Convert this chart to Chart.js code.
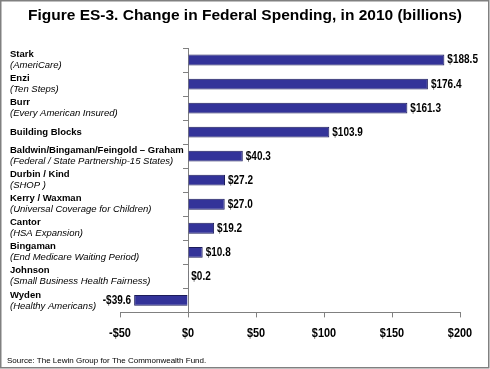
<!DOCTYPE html>
<html>
<head>
<meta charset="utf-8">
<script src="https://cdn.jsdelivr.net/npm/chart.js@4/dist/chart.umd.min.js"></script>
<style>
  html, body { margin: 0; padding: 0; background: #fff; }
  canvas { display: block; }
</style>
</head>
<body>
<canvas id="chart" width="490" height="369"></canvas>
<script>
// Sponsors (bold line) and plan names (italic line), top to bottom
const sponsors = [
    'Stark', 'Enzi', 'Burr', 'Building Blocks',
    'Baldwin/Bingaman/Feingold \u2013 Graham', 'Durbin / Kind', 'Kerry / Waxman',
    'Cantor', 'Bingaman', 'Johnson', 'Wyden'
];
const plans = [
    '(AmeriCare)', '(Ten Steps)', '(Every American Insured)', '',
    '(Federal / State Partnership-15 States)', '(SHOP )',
    '(Universal Coverage for Children)', '(HSA Expansion)',
    '(End Medicare Waiting Period)', '(Small Business Health Fairness)',
    '(Healthy Americans)'
];
// Change in federal spending, 2010, $ billions
const spending = [188.5, 176.4, 161.3, 103.9, 40.3, 27.2, 27.0, 19.2, 10.8, 0.2, -39.6];
const axisMin = -50;
const axisMax = 200;
const axisStep = 50;

const titleText = 'Figure ES-3. Change in Federal Spending, in 2010 (billions)';
const sourceText = 'Source: The Lewin Group for The Commonwealth Fund.';

const money = v => (v < 0 ? '-$' : '$') + Math.abs(v).toFixed(1);
const moneyTick = v => (v < 0 ? '-$' : '$') + Math.abs(v);

const sans = '"Liberation Sans", Arial, sans-serif';

// condensed text: squeeze horizontally around the anchor point
function narrowText(ctx, text, x, y, squeeze) {
    ctx.save();
    ctx.translate(x, y);
    ctx.scale(squeeze, 1);
    ctx.fillText(text, 0, 0);
    ctx.restore();
}

// draws title, source, category labels, value labels, x tick labels and the frame
const decorations = {
    id: 'decorations',
    afterDraw(chart) {
        const ctx = chart.ctx;
        const xScale = chart.scales.x;
        const yScale = chart.scales.y;
        ctx.save();

        ctx.fillStyle = '#000';
        ctx.textBaseline = 'middle';
        ctx.textAlign = 'center';
        ctx.font = 'bold 15.5px ' + sans;
        ctx.fillText(titleText, 245, 16);

        ctx.textAlign = 'left';
        ctx.font = '8px ' + sans;
        ctx.fillText(sourceText, 7, 361);

        // category labels
        sponsors.forEach((name, i) => {
            const yc = yScale.getPixelForValue(i);
            if (plans[i]) {
                ctx.font = 'bold 9.5px ' + sans;
                ctx.fillText(name, 10, yc - 5.5);
                ctx.font = 'italic 9.5px ' + sans;
                ctx.fillText(plans[i], 10, yc + 5.5);
            } else {
                ctx.font = 'bold 9.5px ' + sans;
                ctx.fillText(name, 10, yc);
            }
        });

        // value labels at bar ends
        ctx.font = 'bold 12.5px ' + sans;
        const meta = chart.getDatasetMeta(0);
        meta.data.forEach((bar, i) => {
            const v = spending[i];
            if (v < 0) {
                ctx.textAlign = 'right';
                narrowText(ctx, money(v), bar.x - 3, bar.y, 0.8);
            } else {
                ctx.textAlign = 'left';
                narrowText(ctx, money(v), bar.x + 3, bar.y, 0.8);
            }
        });

        // x tick labels
        ctx.font = 'bold 13px ' + sans;
        ctx.textAlign = 'center';
        xScale.ticks.forEach(t => {
            narrowText(ctx, moneyTick(t.value), xScale.getPixelForValue(t.value), 333, 0.84);
        });

        // outer frame
        ctx.strokeStyle = '#808080';
        ctx.lineWidth = 1.5;
        ctx.strokeRect(0.75, 0.75, 488, 367);
        ctx.restore();
    }
};

new Chart(document.getElementById('chart'), {
    type: 'bar',
    data: {
        labels: sponsors,
        datasets: [{
            data: spending,
            backgroundColor: '#333399',
            borderColor: '#1c1c5a',
            borderWidth: 1,
            categoryPercentage: 0.5,
            barPercentage: 0.9,
        }]
    },
    options: {
        indexAxis: 'y',
        responsive: false,
        animation: false,
        devicePixelRatio: 1,
        layout: {
            padding: { top: 48, left: 120, right: 30, bottom: 28 }
        },
        plugins: {
            legend: { display: false },
            tooltip: { enabled: false },
        },
        scales: {
            x: {
                min: axisMin,
                max: axisMax,
                ticks: {
                    stepSize: axisStep,
                    color: 'rgba(0,0,0,0)',
                    padding: 4,
                    font: { family: sans, size: 13, weight: 'bold' },
                    callback: value => moneyTick(value),
                },
                grid: {
                    drawOnChartArea: false,
                    drawTicks: true,
                    tickLength: 5,
                    color: '#808080',
                },
                border: { color: '#808080', width: 1 },
            },
            y: {
                position: { x: 0 },
                ticks: { display: false },
                grid: {
                    offset: true,
                    drawOnChartArea: false,
                    drawTicks: true,
                    tickLength: 5,
                    color: '#808080',
                },
                border: { color: '#808080', width: 1 },
            }
        }
    },
    plugins: [decorations]
});
</script>
</body>
</html>
